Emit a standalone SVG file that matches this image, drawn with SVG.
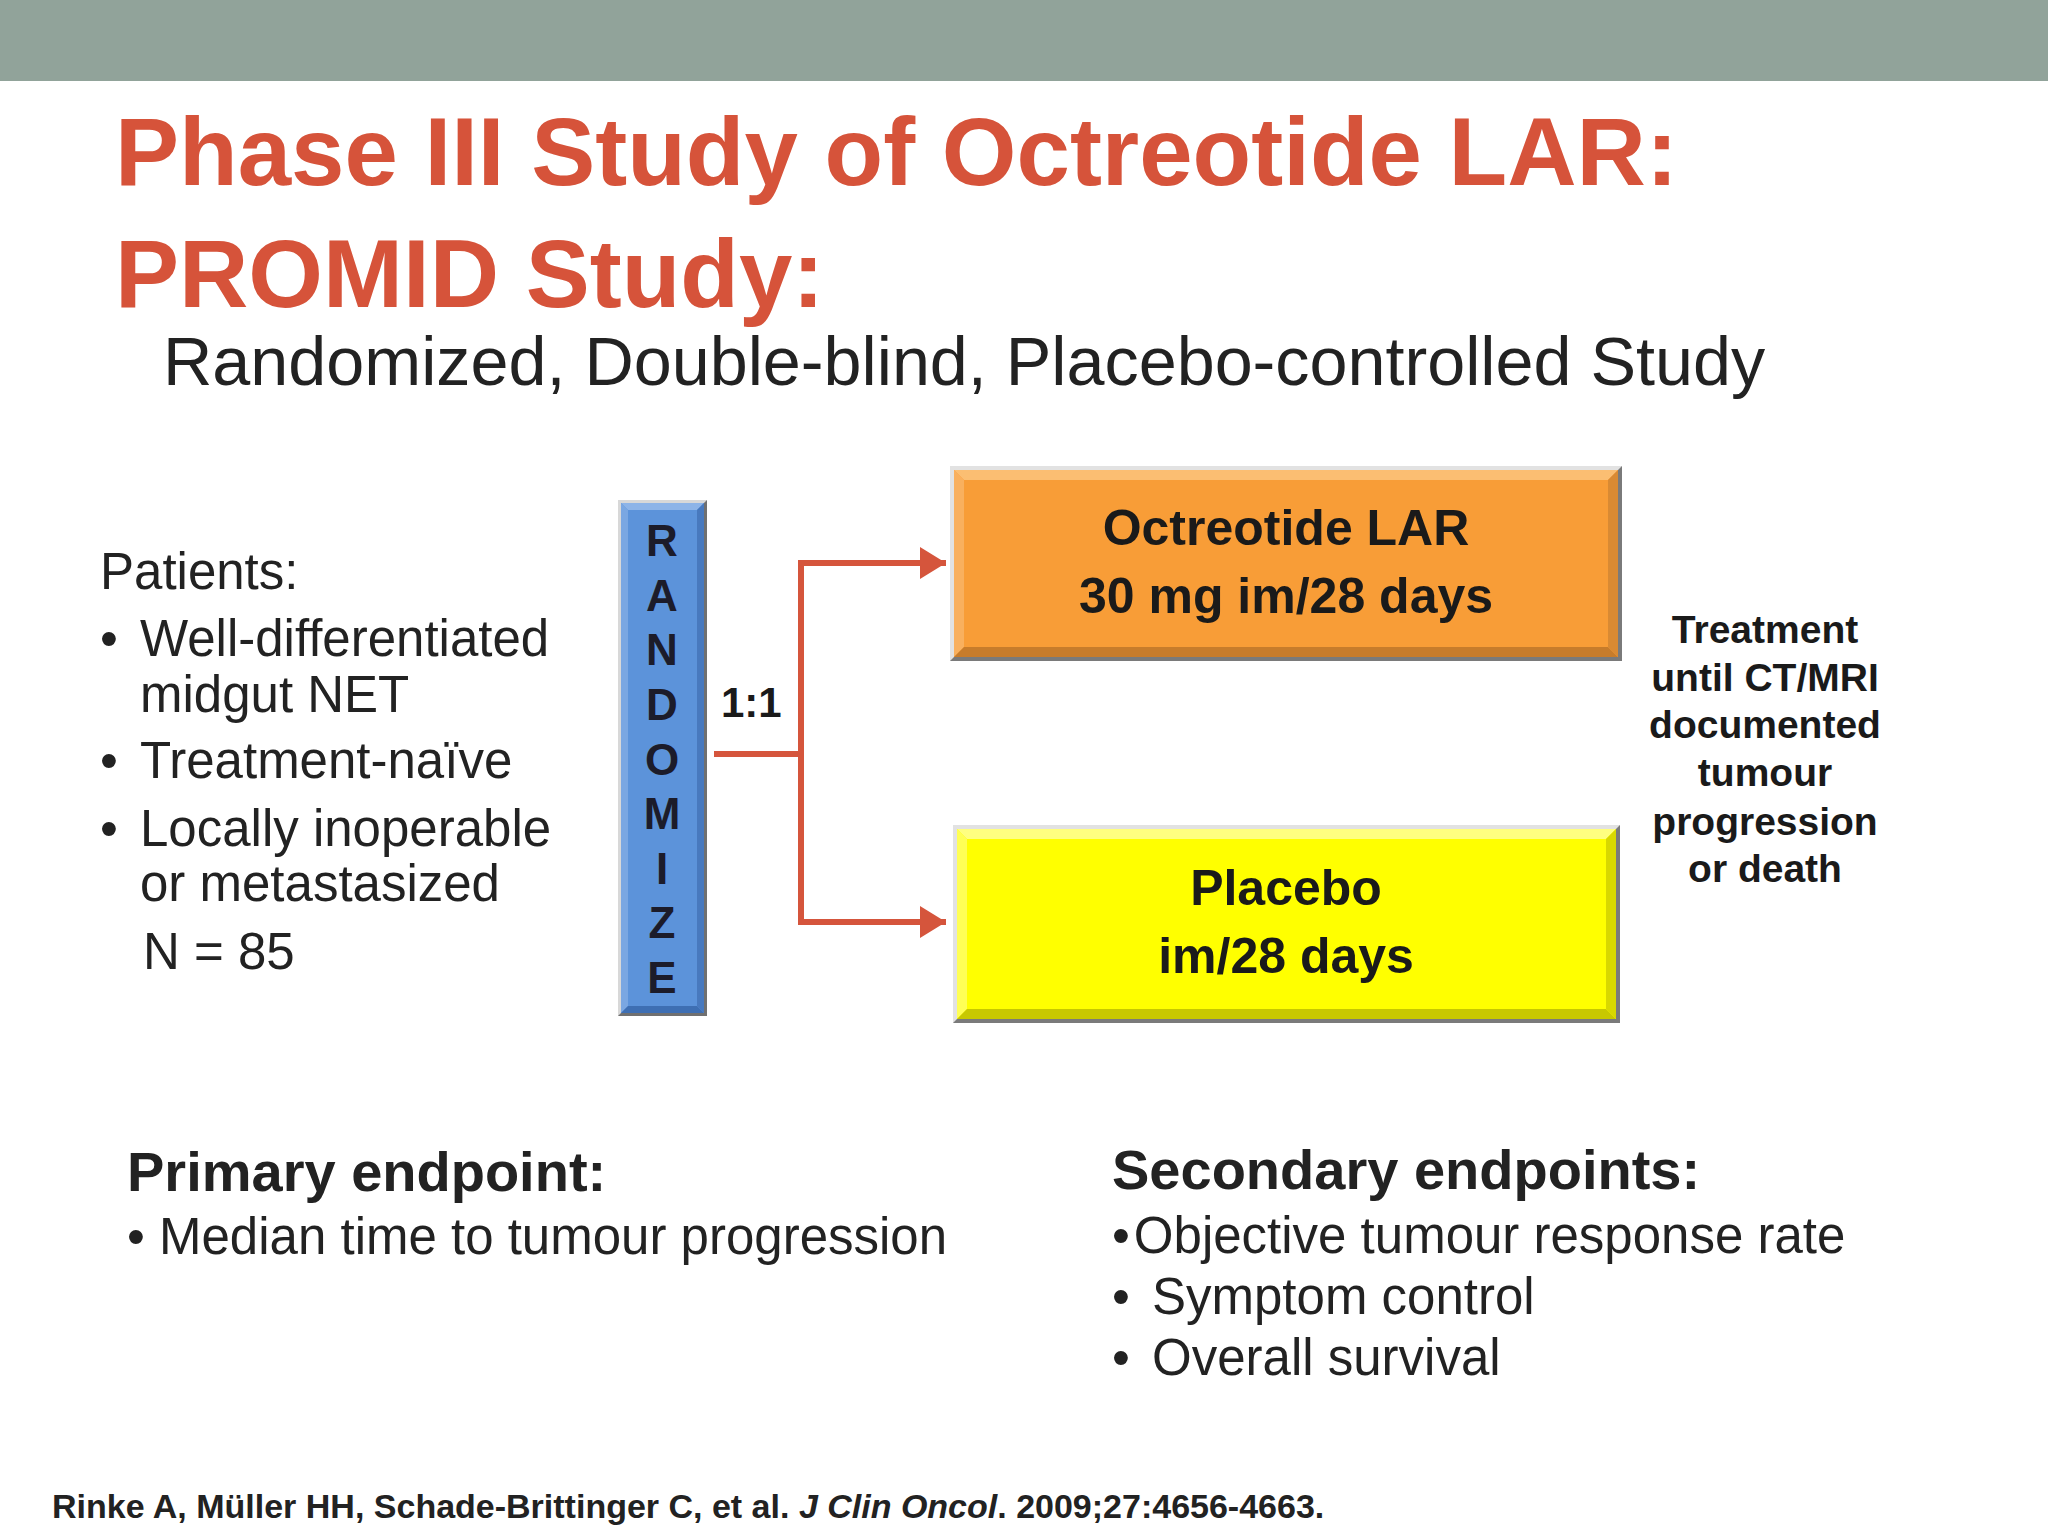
<svg xmlns="http://www.w3.org/2000/svg" width="2048" height="1536" viewBox="0 0 2048 1536">
<style>
text{font-family:"Liberation Sans",Arial,sans-serif;fill:#222}
.title{font-size:96px;font-weight:bold;fill:#D6533A}
.sub{font-size:68.3px}
.body{font-size:51px}
.head{font-size:56px;font-weight:bold}
.box{font-size:50px;font-weight:bold;text-anchor:middle;fill:#1a1a1a}
.side{font-size:39px;font-weight:bold;text-anchor:middle;fill:#1a1a1a}
.rand{font-size:44px;font-weight:bold;text-anchor:middle;fill:#1c1c2a}
.conn{stroke:#D5553C;stroke-width:6;fill:none}
.foot{font-size:34px;font-weight:bold}
</style>
<defs>
<marker id="arrow" markerUnits="userSpaceOnUse" markerWidth="28" markerHeight="32" refX="26" refY="16" orient="auto">
<path d="M0 0 L26 16 L0 32 Z" fill="#D5553C"/>
</marker>
</defs>
<rect width="2048" height="1536" fill="#ffffff"/>
<rect x="0" y="0" width="2048" height="81" fill="#91A39A"/>
<g id="title">
<text class="title" x="115" y="185">Phase III Study of Octreotide LAR:</text>
<text class="title" x="115" y="307">PROMID Study:</text>
<text class="sub" x="163" y="385">Randomized, Double-blind, Placebo-controlled Study</text>
</g>
<g id="patients">
<text class="body" x="100" y="589">Patients:</text>
<text class="body" x="100" y="656">•</text>
<text class="body" x="140" y="656">Well-differentiated</text>
<text class="body" x="140" y="712">midgut NET</text>
<text class="body" x="100" y="778">•</text>
<text class="body" x="140" y="778">Treatment-naïve</text>
<text class="body" x="100" y="846">•</text>
<text class="body" x="140" y="846">Locally inoperable</text>
<text class="body" x="140" y="901">or metastasized</text>
<text class="body" x="143" y="969">N = 85</text>
</g>
<g id="randomize">
<rect x="618" y="500" width="89" height="516" fill="#d8d8d8"/>
<polygon points="707,500 707,1016 618,1016 622,1012 703,1012 703,504" fill="#707070"/>
<rect x="621" y="503" width="83" height="510" fill="#5C93DA"/>
<polygon points="621,503 704,503 697,510 628,510" fill="#8DB4E8"/>
<polygon points="621,503 628,510 628,1006 621,1013" fill="#7AA7E2"/>
<polygon points="621,1013 628,1006 697,1006 704,1013" fill="#3E6FB3"/>
<polygon points="704,503 697,510 697,1006 704,1013" fill="#4879BE"/>
<text class="rand" x="662" y="556">R</text>
<text class="rand" x="662" y="611">A</text>
<text class="rand" x="662" y="665">N</text>
<text class="rand" x="662" y="720">D</text>
<text class="rand" x="662" y="775">O</text>
<text class="rand" x="662" y="829">M</text>
<text class="rand" x="662" y="884">I</text>
<text class="rand" x="662" y="938">Z</text>
<text class="rand" x="662" y="993">E</text>
</g>
<g id="ratio">
<text x="721" y="717" style="font-size:42px;font-weight:bold;fill:#1a1a1a">1:1</text>
</g>
<g id="connectors">
<path class="conn" d="M714 754 H801"/>
<path class="conn" d="M801 563 V922"/>
<path class="conn" d="M798 563 H946" marker-end="url(#arrow)"/>
<path class="conn" d="M798 922 H946" marker-end="url(#arrow)"/>
</g>
<g id="octreotide">
<rect x="950" y="466" width="672" height="195" fill="#e2e2e2"/>
<polygon points="1622,466 1622,661 950,661 954,657 1618,657 1618,470" fill="#7a7a7a"/>
<rect x="954" y="470" width="664" height="187" fill="#F89D37"/>
<polygon points="954,470 1618,470 1608,480 964,480" fill="#FBBE72"/>
<polygon points="954,470 964,480 964,647 954,657" fill="#F9B05E"/>
<polygon points="954,657 964,647 1608,647 1618,657" fill="#C77C2B"/>
<polygon points="1618,470 1608,480 1608,647 1618,657" fill="#D98A33"/>
<text class="box" x="1286" y="545">Octreotide LAR</text>
<text class="box" x="1286" y="613">30 mg im/28 days</text>
</g>
<g id="placebo">
<rect x="953" y="825" width="667" height="198" fill="#e2e2e2"/>
<polygon points="1620,825 1620,1023 953,1023 957,1019 1616,1019 1616,829" fill="#7a7a7a"/>
<rect x="957" y="829" width="659" height="190" fill="#FFFF00"/>
<polygon points="957,829 1616,829 1606,839 967,839" fill="#FFFF80"/>
<polygon points="957,829 967,839 967,1009 957,1019" fill="#FFFF55"/>
<polygon points="957,1019 967,1009 1606,1009 1616,1019" fill="#C8C800"/>
<polygon points="1616,829 1606,839 1606,1009 1616,1019" fill="#D8D800"/>
<text class="box" x="1286" y="905">Placebo</text>
<text class="box" x="1286" y="973">im/28 days</text>
</g>
<g id="treatment-note">
<text class="side" x="1765" y="643">Treatment</text>
<text class="side" x="1765" y="691">until CT/MRI</text>
<text class="side" x="1765" y="738">documented</text>
<text class="side" x="1765" y="786">tumour</text>
<text class="side" x="1765" y="835">progression</text>
<text class="side" x="1765" y="882">or death</text>
</g>
<g id="primary">
<text class="head" x="127" y="1191">Primary endpoint:</text>
<text class="body" x="127" y="1254">• Median time to tumour progression</text>
</g>
<g id="secondary">
<text class="head" x="1112" y="1189">Secondary endpoints:</text>
<text class="body" x="1112" y="1253">•<tspan dx="4">Objective tumour response rate</tspan></text>
<text class="body" x="1112" y="1314">•</text>
<text class="body" x="1152" y="1314">Symptom control</text>
<text class="body" x="1112" y="1375">•</text>
<text class="body" x="1152" y="1375">Overall survival</text>
</g>
<g id="footer">
<text class="foot" x="52" y="1518">Rinke A, Müller HH, Schade-Brittinger C, et al. <tspan font-style="italic">J Clin Oncol</tspan>. 2009;27:4656-4663.</text>
</g>
</svg>
